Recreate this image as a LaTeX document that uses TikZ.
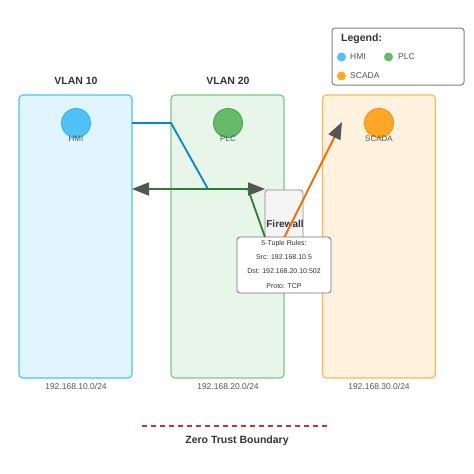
\documentclass[tikz,border=0pt]{standalone}
\usepackage{fontspec}
\setmainfont{Liberation Sans}
\usetikzlibrary{arrows.meta}
\definecolor{hmifill}{HTML}{E1F5FE}
\definecolor{hmiedge}{HTML}{4FC3F7}
\definecolor{hmidot}{HTML}{4FC3F7}
\definecolor{hmidotedge}{HTML}{29B6F6}
\definecolor{plcfill}{HTML}{E8F5E9}
\definecolor{plcedge}{HTML}{81C784}
\definecolor{plcdot}{HTML}{66BB6A}
\definecolor{plcdotedge}{HTML}{43A047}
\definecolor{scfill}{HTML}{FFF3E0}
\definecolor{scedge}{HTML}{FFB74D}
\definecolor{scdot}{HTML}{FFA726}
\definecolor{scdotedge}{HTML}{FB8C00}
\definecolor{blueline}{HTML}{0288D1}
\definecolor{greenline}{HTML}{2E7D32}
\definecolor{orangeline}{HTML}{EF6C00}
\definecolor{tipgray}{HTML}{555555}
\definecolor{txtdark}{HTML}{333333}
\definecolor{txtgray}{HTML}{555555}
\definecolor{boundred}{HTML}{D32F2F}
\tikzset{
  vlanbox/.style={draw, line width=1.2pt, rounded corners=4pt, minimum width=113pt, minimum height=283pt, inner sep=0pt},
  dev/.style={circle, draw, line width=0.8pt, minimum size=29pt, inner sep=0pt},
  legdot/.style={circle, minimum size=9pt, inner sep=0pt},
  devlabel/.style={text=txtgray, font=\fontsize{8}{9}\selectfont, inner sep=0pt},
  title/.style={text=txtdark, font=\fontsize{10.5}{12}\selectfont\bfseries, inner sep=0pt},
  small/.style={text=txtgray, font=\fontsize{8.5}{10}\selectfont, inner sep=0pt},
  rule/.style={text=txtdark, font=\fontsize{7}{8}\selectfont, inner sep=0pt},
  conn/.style={line width=1.8pt},
  gtip/.style={-{Triangle[length=17pt,width=13pt,color=tipgray]}},
  gtips/.style={{Triangle[length=17pt,width=13pt,color=tipgray]}-{Triangle[length=17pt,width=13pt,color=tipgray]}},
}
\begin{document}
\begin{tikzpicture}[x=1pt,y=-1pt]
\useasboundingbox (0,0) rectangle (474,474);
% VLAN boxes
\node[vlanbox, fill=hmifill, draw=hmiedge] (v10) at (75.5,236.5) {};
\node[vlanbox, fill=plcfill, draw=plcedge] (v20) at (227.5,236.5) {};
\node[vlanbox, fill=scfill, draw=scedge] (v30) at (379,236.5) {};
\node[title] (t10) at (76,81) {VLAN 10};
\node[title] (t20) at (228,81) {VLAN 20};
% devices
\node[dev, fill=hmidot, draw=hmidotedge] (hmi) at (76,123) {};
\node[dev, fill=plcdot, draw=plcdotedge] (plc) at (228,123) {};
\node[dev, fill=scdot, draw=scdotedge] (scada) at (379,123) {};
\node[devlabel] (lhmi) at (76,139) {HMI};
\node[devlabel] (lplc) at (228,139) {PLC};
\node[devlabel] (lscada) at (379,139) {SCADA};
% subnets
\node[small] (s10) at (76,386) {192.168.10.0/24};
\node[small] (s20) at (228,386) {192.168.20.0/24};
\node[small] (s30) at (379,386) {192.168.30.0/24};
% firewall
\node[draw=black!45, fill=black!4, line width=0.8pt, rounded corners=3pt, minimum width=38pt, minimum height=60pt, inner sep=0pt] (fw) at (284,220) {};
\node[text=txtdark, font=\fontsize{10}{12}\selectfont\bfseries, inner sep=0pt] (fwt) at (285,224) {Firewall};
% connector points
\coordinate (b1) at (132,123);
\coordinate (b2) at (171,123);
\coordinate (b3) at (208,189);
\coordinate (gl) at (132,189);
\coordinate (gr) at (265,189);
\coordinate (gb) at (248,189);
\coordinate (ge) at (266,240);
\coordinate (os) at (283,240);
\coordinate (oe) at (342,122);
% connectors
\draw[conn, blueline] (b1) -- (b2) -- (b3);
\draw[conn, greenline, gtips] (gl) -- (gr);
\draw[conn, greenline] (gb) -- (ge);
\draw[conn, orangeline, gtip] (os) -- (oe);
% rules box
\node[draw=black!55, fill=white, line width=0.8pt, rounded corners=3pt, minimum width=94pt, minimum height=56pt, inner sep=0pt] (rules) at (284,265) {};
\node[rule] (r1) at (284,243.5) {5-Tuple Rules:};
\node[rule] (r2) at (284,257.5) {Src: 192.168.10.5};
\node[rule] (r3) at (284,271.5) {Dst: 192.168.20.10:502};
\node[rule] (r4) at (284,286) {Proto: TCP};
% boundary
\coordinate (z1) at (142,426);
\coordinate (z2) at (328,426);
\draw[boundred, line width=1.5pt, dash pattern=on 5pt off 4pt] (z1) -- (z2);
\node[title] (zt) at (237,441) {Zero Trust Boundary};
% legend
\node[draw=black!50, fill=white, line width=1pt, rounded corners=3pt, minimum width=132pt, minimum height=57pt, inner sep=0pt] (leg) at (398,56.5) {};
\node[title, anchor=west] (legt) at (341,39) {Legend:};
\node[legdot, fill=hmidot] (lg1) at (341.5,57) {};
\node[small, anchor=west] (lg1t) at (350,57) {HMI};
\node[legdot, fill=plcdot] (lg2) at (388.5,57) {};
\node[small, anchor=west] (lg2t) at (398,57) {PLC};
\node[legdot, fill=scdot] (lg3) at (341.5,76) {};
\node[small, anchor=west] (lg3t) at (350,76) {SCADA};
\end{tikzpicture}
\end{document}
